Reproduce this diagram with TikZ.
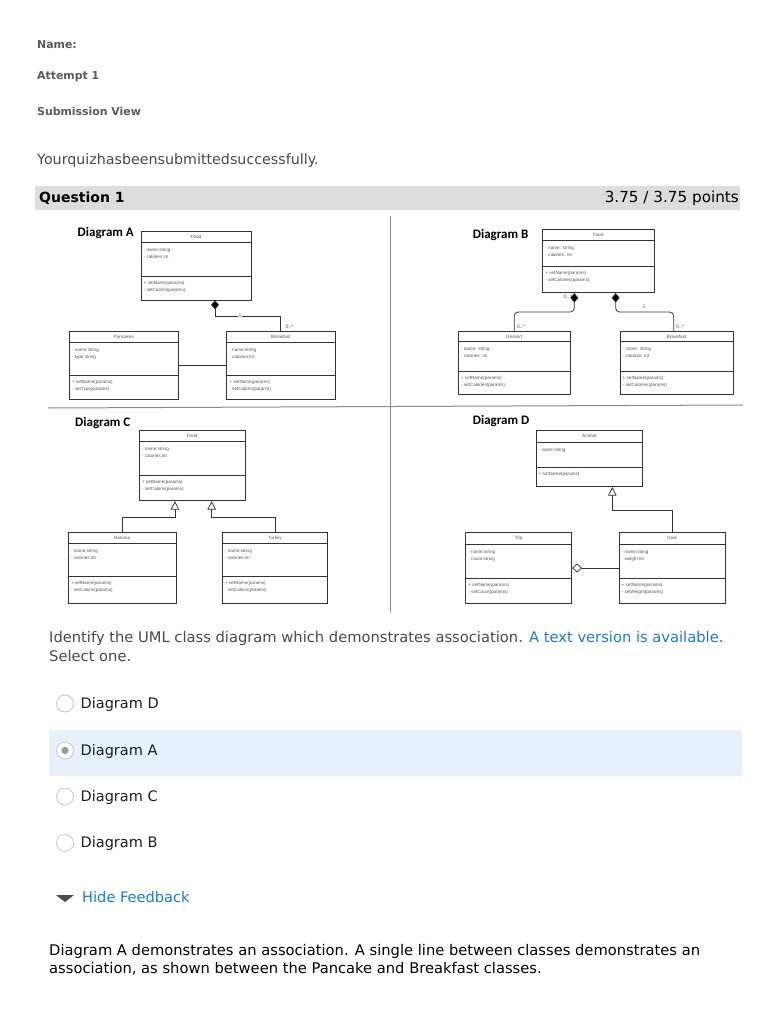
\documentclass[tikz,border=0pt]{standalone}
\usepackage{fontspec}
\setmainfont{DejaVu Sans}
\newfontfamily\umlfont{Liberation Sans}
\newfontfamily\labfont{Carlito}
\usetikzlibrary{arrows.meta,fit}
\definecolor{hdr}{HTML}{5A5A5A}
\definecolor{bodyc}{HTML}{4A4A4A}
\definecolor{optc}{HTML}{1E1E1E}
\definecolor{linkc}{HTML}{1E7AD0}
\definecolor{qbar}{HTML}{DDDDDD}
\definecolor{hlc}{HTML}{E6F1FB}
\definecolor{umlc}{HTML}{333333}
\definecolor{umlt}{HTML}{555555}
\definecolor{divc}{HTML}{8A8A8A}
\tikzset{
  txt/.style={anchor=base west, inner sep=0},
  hdrtext/.style={txt, font=\fontsize{10.9}{13}\selectfont\bfseries, text=hdr},
  bodytext/.style={txt, font=\fontsize{14.7}{17}\selectfont, text=bodyc},
  umlbox/.style={draw=umlc, line width=0.75, inner sep=0},
  umlline/.style={draw=umlc, line width=0.75},
  umltitle/.style={inner sep=0, font=\umlfont\fontsize{4.6}{6}\selectfont, text=umlt},
  umltext/.style={anchor=north west, inner sep=0, align=left, font=\umlfont\fontsize{4.6}{7}\selectfont, text=umlt},
  umllabel/.style={inner sep=0.4, font=\umlfont\fontsize{5.2}{6}\selectfont, text=umlt},
  diaglabel/.style={txt, font=\labfont\fontsize{13}{15}\selectfont\bfseries, text=black},
  divider/.style={draw=divc, line width=1},
  radio/.style={circle, draw=black!22, fill=white, line width=0.8, minimum size=17, inner sep=0},
  opttext/.style={txt, font=\fontsize{14.5}{17}\selectfont, text=optc},
  filled diamond/.style={{Diamond[length=9,width=8,fill=black]}-},
  filled diamond b/.style={{Diamond[length=9.5,width=8,fill=black]}-},
  open diamond/.style={{Diamond[open,length=10,width=9]}-},
  open triangle/.style={{Triangle[open,length=8.6,width=8.6]}-}
}
\newcommand\umlclass[9]{%
  \node[umlbox, fit={(#2,#3) (#4,#5)}] (#1) {};
  \draw[umlline] (#2,#6) -- (#4,#6) (#2,#7) -- (#4,#7);
  \node[umltitle] at ({(#2+#4)/2},{(#3+#6)/2}) {#8};
  \umlbody{#2}{#6}{#7}#9}
\newcommand\umlbody[5]{%
  \node[umltext] at (#1+2.5,#2+5.5) {#4};
  \node[umltext] at (#1+2.5,#3+4.5) {#5};}
\begin{document}
\begin{tikzpicture}[x=1pt,y=-1pt]
\fill[white] (0,0) rectangle (768,1024);
\useasboundingbox (0,0) rectangle (768,1024);

% header
\node[hdrtext] (name) at (37,49) {Name:};
\node[hdrtext] (attempt) at (37,80) {Attempt 1};
\node[hdrtext] (subview) at (37,116) {Submission View};
\node[txt, font=\fontsize{14.25}{16}\selectfont, text=bodyc] (done) at (37,165) {Yourquizhasbeensubmittedsuccessfully.};
\fill[qbar] (35,186) rectangle (740,210);
\node[txt, font=\fontsize{14}{16}\selectfont\bfseries, text=black] (q1) at (39,203) {Question 1};
\node[anchor=base east, inner sep=0, font=\fontsize{15.2}{16}\selectfont, text=black] (pts) at (739,203) {3.75 / 3.75 points};

% dividers
\draw[divider] (390,216) -- (390,612);
\draw[divider] (48,408) -- (743,405);

% ---------- Diagram A
\node[diaglabel] (labA) at (77.5,236.5) {Diagram A};
\umlclass{aFood}{141}{231.7}{251}{300}{242.7}{276.7}{Food}{{- name:string\\- calories:int}{+ setName(params)\\- setCaloris(params)}}
\umlclass{aPan}{69.3}{331}{178.3}{399}{342}{375}{Pancakes}{{- name:string\\- type:string}{+ setName(params)\\- setType(params)}}
\umlclass{aBreak}{226.7}{331}{335}{399}{342}{375}{Breakfast}{{- name:string\\- calories:int}{+ setName(params)\\- setCaloris(params)}}
\draw[umlline, filled diamond] ([xshift=19]aFood.south) -- ++(0,15.7) -| (aBreak.north);
\node[umllabel, fill=white] (aOne) at (240,315.7) {1};
\node[umllabel, anchor=west] (aMany) at (285,326.5) {0..*};
\draw[umlline] (aPan.east) -- (aBreak.west);

% ---------- Diagram B
\node[diaglabel] (labB) at (472.7,238) {Diagram B};
\umlclass{bFood}{542.7}{229.3}{654}{292.7}{240}{266.7}{Food}{{- name: string\\- calories: int}{+ setName(params)\\- setCalories(params)}}
\umlclass{bDes}{458.3}{331.7}{570}{394}{341.7}{371.7}{Dessert}{{- name: string\\- calories: int}{+ setName(params)\\- setCalories(params)}}
\umlclass{bBreak}{620}{331.7}{733.3}{394}{341.7}{371.7}{Breakfast}{{- name: string\\- calories: int}{+ setName(params)\\- setCalories(params)}}
\node[umllabel, anchor=east] (bZero) at (573,296.5) {0..1};
\draw[umlline, rounded corners=4, filled diamond b] ([xshift=-24]bFood.south) -- ++(0,19) -| (bDes.north);
\draw[umlline, rounded corners=4, filled diamond b] ([xshift=17.3]bFood.south) -- ++(0,19) -| ([xshift=-3]bBreak.north);
\node[umllabel] (bOne) at (644,307) {1};
\node[umllabel, anchor=west] (bManyA) at (516.5,327) {0..*};
\node[umllabel, anchor=west] (bManyB) at (675.5,327) {0..*};

% ---------- Diagram C
\node[diaglabel] (labC) at (75,426) {Diagram C};
\umlclass{cFood}{139.3}{430.7}{245}{500.7}{441.7}{475}{Food}{{- name:string\\- calories:int}{+ setName(params)\\- setCaloris(params)}}
\umlclass{cBan}{68.3}{532.7}{176}{603.3}{543.3}{576.7}{Banana}{{- name:string\\- calories:int}{+ setName(params)\\- setCaloris(params)}}
\umlclass{cTur}{222.3}{532.7}{327.7}{603.3}{543.3}{576.7}{Turkey}{{- name:string\\- calories:int}{+ setName(params)\\- setCaloris(params)}}
\draw[umlline, open triangle] ([xshift=-17.2]cFood.south) -- ++(0,16) -| (cBan.north);
\draw[umlline, open triangle] ([xshift=19.5]cFood.south) -- ++(0,16) -| (cTur.north);

% ---------- Diagram D
\node[diaglabel] (labD) at (472.7,424) {Diagram D};
\umlclass{dAni}{536}{430}{642.3}{486.7}{442.3}{467.3}{Animal}{{- name:string}{+ setName(params)}}
\umlclass{dTrip}{465.7}{532.7}{571.7}{603.3}{544}{578.3}{Trip}{{- name:string\\- count:string}{+ setName(params)\\- setCount(params)}}
\umlclass{dGoat}{619}{532.7}{725}{603.3}{544}{578.3}{Goat}{{- name:string\\- weight:int}{+ setName(params)\\- setWeight(params)}}
\draw[umlline, open triangle] ([xshift=23.15]dAni.south) -- ++(0,23.3) -| (dGoat.north);
\draw[umlline, open diamond] (dTrip.east) -- (dGoat.west);

% ---------- question text
\node[bodytext] (ident) at (49,642) {Identify the UML class diagram which demonstrates association. \textcolor{linkc}{A text version is available}.};
\node[bodytext] (sel) at (49,661) {Select one.};

% options
\fill[hlc] (49,730) rectangle (742,776);
\node[radio] (rD) at (65,703.5) {};
\node[radio] (rA) at (65,750.5) {};
\fill[black!40] (rA) circle[radius=3.6pt];
\node[radio] (rC) at (65,796.5) {};
\node[radio] (rB) at (65,843) {};
\node[opttext] (oD) at (80.5,708.3) {Diagram D};
\node[opttext] (oA) at (80.5,755.3) {Diagram A};
\node[opttext] (oC) at (80.5,801.3) {Diagram C};
\node[opttext] (oB) at (80.5,847.8) {Diagram B};

% feedback
\fill[black!70] (56,895) -- (74,895) -- (65,902) -- cycle;
\node[txt, font=\fontsize{14.6}{17}\selectfont, text=linkc] (hide) at (82,902.3) {Hide Feedback};
\node[txt, font=\fontsize{14.7}{17}\selectfont, text=black] (fb1) at (49,955) {Diagram A demonstrates an association. A single line between classes demonstrates an};
\node[txt, font=\fontsize{14.7}{17}\selectfont, text=black] (fb2) at (49,973) {association, as shown between the Pancake and Breakfast classes.};
\end{tikzpicture}
\end{document}
